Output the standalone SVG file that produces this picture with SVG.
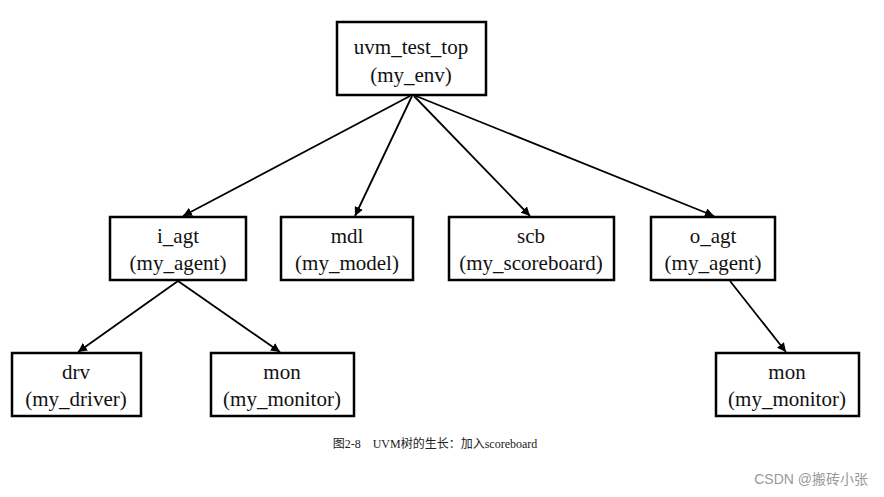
<svg xmlns="http://www.w3.org/2000/svg" width="884" height="497" viewBox="0 0 884 497">
<style>
.b{fill:#fff;stroke:#000;stroke-width:2.5}
.t{font-family:"Liberation Serif",serif;font-size:21px;text-anchor:middle;fill:#111}
.c line{stroke:#000;stroke-width:1.8;marker-end:url(#a)}
</style>
<defs><marker id="a" viewBox="0 0 10 10" refX="10" refY="5" markerWidth="9" markerHeight="9" markerUnits="userSpaceOnUse" orient="auto"><path d="M0,0L10,5L0,10z"/></marker></defs>
<rect width="884" height="497" fill="#fff"/>
<g class="c">
<line x1="410" y1="96" x2="183" y2="216"/>
<line x1="412" y1="96" x2="355" y2="216"/>
<line x1="414" y1="96" x2="530" y2="216"/>
<line x1="416" y1="96" x2="714" y2="216"/>
<line x1="178" y1="281" x2="78" y2="352"/>
<line x1="178" y1="281" x2="280" y2="352"/>
<line x1="730" y1="281" x2="786" y2="352"/>
</g>
<g id="top"><rect class="b" x="337" y="22" width="149" height="73"/><text class="t" x="411" y="54">uvm_test_top</text><text class="t" x="411" y="82">(my_env)</text></g>
<g id="iagt"><rect class="b" x="110" y="217" width="136" height="63"/><text class="t" x="178" y="243">i_agt</text><text class="t" x="178" y="270">(my_agent)</text></g>
<g id="mdl"><rect class="b" x="281" y="217" width="132" height="63"/><text class="t" x="347" y="243">mdl</text><text class="t" x="347" y="270">(my_model)</text></g>
<g id="scb"><rect class="b" x="449" y="217" width="165" height="63"/><text class="t" x="531" y="243">scb</text><text class="t" x="531" y="270">(my_scoreboard)</text></g>
<g id="oagt"><rect class="b" x="651" y="217" width="124" height="63"/><text class="t" x="713" y="243">o_agt</text><text class="t" x="713" y="270">(my_agent)</text></g>
<g id="drv"><rect class="b" x="12" y="353" width="129" height="63"/><text class="t" x="76" y="379">drv</text><text class="t" x="76" y="406">(my_driver)</text></g>
<g id="mon1"><rect class="b" x="211" y="353" width="143" height="63"/><text class="t" x="282" y="379">mon</text><text class="t" x="282" y="406">(my_monitor)</text></g>
<g id="mon2"><rect class="b" x="716" y="353" width="143" height="63"/><text class="t" x="787" y="379">mon</text><text class="t" x="787" y="406">(my_monitor)</text></g>
<text x="435" y="448" font-family="Liberation Serif,Noto Sans CJK SC,serif" font-size="12" text-anchor="middle" fill="#222">图2-8　UVM树的生长：加入scoreboard</text>
<text x="868" y="484" font-family="Liberation Sans,Noto Sans CJK SC,sans-serif" font-size="14" text-anchor="end" fill="#999">CSDN @搬砖小张</text>
</svg>
